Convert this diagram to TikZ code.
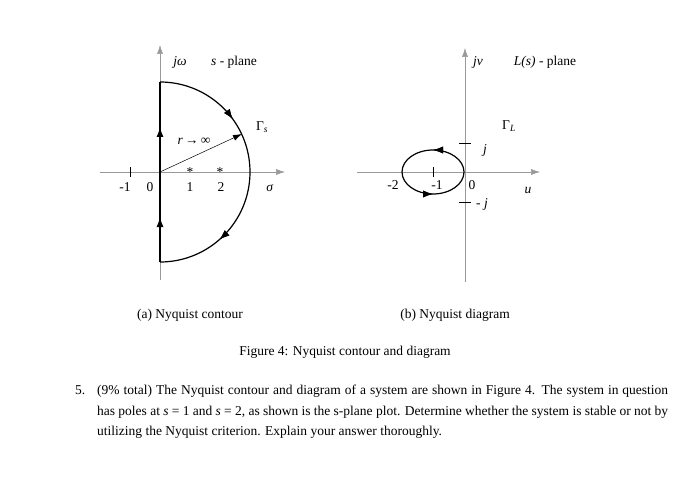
\documentclass[tikz,border=0pt]{standalone}
\usepackage{fontspec}
\setmainfont{Liberation Serif}
\setsansfont{Liberation Sans}
\usetikzlibrary{decorations.markings,arrows.meta}
\begin{document}
\begin{tikzpicture}[x=1pt,y=-1pt,
  ax/.style={draw=gray!80,line width=0.5pt,-{Latex[length=9pt,width=6pt]}},
  curve/.style={line width=1.2pt},
  tip/.style={-{Latex[length=9pt,width=6pt]}},
  lbl/.style={inner sep=0pt,font=\fontsize{13.5}{15}\selectfont},
  midarrow/.style={postaction={decorate},decoration={markings,mark=at position #1 with {\arrow{Latex[length=10pt,width=7pt]}}}},
  midrev/.style={postaction={decorate},decoration={markings,mark=at position #1 with {\arrowreversed{Latex[length=10pt,width=7pt]}}}}]
\useasboundingbox (0,0) rectangle (700,489);
% left
\coordinate (o1) at (160,172);
\draw[ax] (160,280) -- (160,45);
\draw[ax] (100,172) -- (285,172);
\draw (130,167) -- (130,177);
\draw[curve,midarrow=0.5] (160,262) -- (160,172);
\draw[curve,midarrow=0.5] (160,172) -- (160,82);
\draw[curve,midarrow=0.3,midarrow=0.77] (160,82) arc[start angle=270,end angle=450,radius=90];
\draw[line width=0.5pt,tip] (o1) -- (242,134);
\node[lbl] at (190,172) {*};
\node[lbl] at (220,172) {*};
\node[lbl] at (125,187) {-1};
\node[lbl] at (150,187) {0};
\node[lbl] at (190,187) {1};
\node[lbl] at (221,187) {2};
\node[lbl] at (270,188) {\textit{σ}};
\node[lbl] at (180,62) {\textit{jω}};
\node[lbl] at (234,62) {\textit{s} - plane};
\node[lbl] at (262,127) {Γ\textsubscript{\textit{s}}};
\node[lbl] at (194,141) {\textit{r}\,→\,∞};
% right
\draw[ax] (465,282) -- (465,48);
\draw[ax] (357,172) -- (540,172);
\draw (459,143) -- (471,143);
\draw (459,202) -- (471,202);
\draw (433,167) -- (433,177);
\draw[curve,midrev=0.25,midrev=0.75] (433,172) ellipse[x radius=31,y radius=22];
\node[lbl] at (393,185) {-2};
\node[lbl] at (437,185) {-1};
\node[lbl] at (472,185) {0};
\node[lbl] at (528,190) {\textit{u}};
\node[lbl] at (485,150) {\textit{j}};
\node[lbl] at (482,204) {- \textit{j}};
\node[lbl] at (478,62) {\textit{jv}};
\node[lbl] at (545,62) {\textit{L(s)} - plane};
\node[lbl] at (509,126) {Γ\textsubscript{\textit{L}}};
% captions
\node[lbl] at (190,315) {(a) Nyquist contour};
\node[lbl] at (455,315) {(b) Nyquist diagram};
\node[lbl] at (345,352) {Figure 4: Nyquist contour and diagram};
\node[lbl,anchor=north west] at (75,385) {5.};
\node[lbl,anchor=north west,text width=571pt,align=justify,font=\fontsize{13.5}{20.5}\selectfont] at (97,385)
 {(9\% total) The Nyquist contour and diagram of a system are shown in Figure 4. The system in question has poles at \textit{s} = 1 and \textit{s} = 2, as shown is the s-plane plot. Determine whether the system is stable or not by utilizing the Nyquist criterion. Explain your answer thoroughly.};
\end{tikzpicture}
\end{document}
